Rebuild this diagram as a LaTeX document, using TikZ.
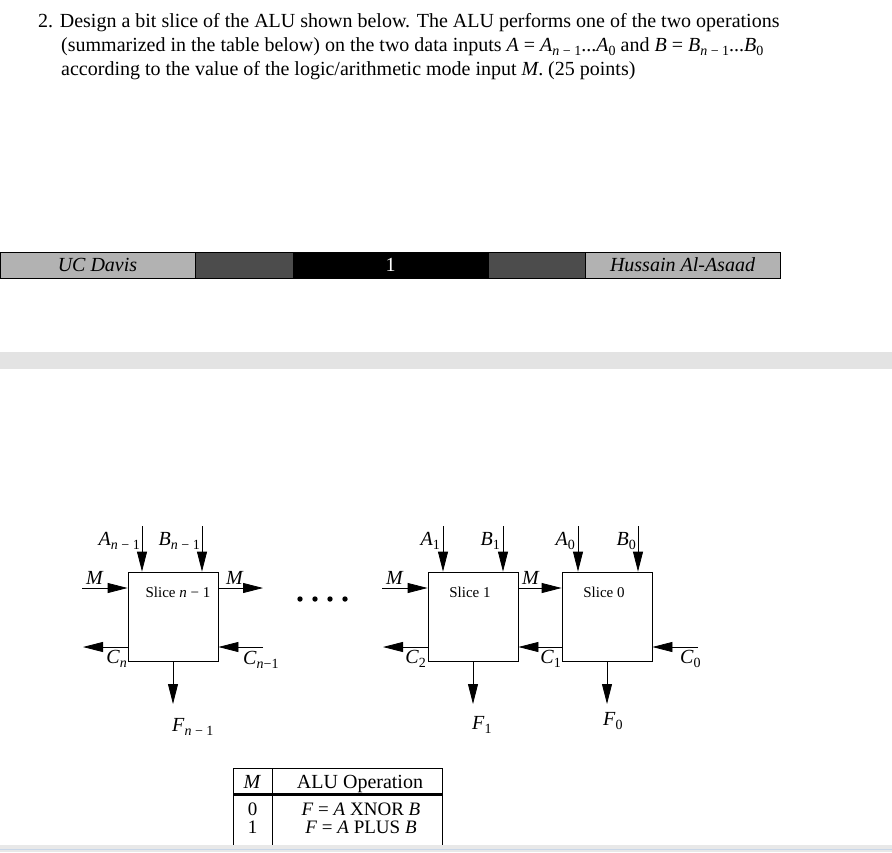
\documentclass[tikz,border=0pt]{standalone}
\usepackage{fontspec}
\setmainfont{Liberation Serif}
\usetikzlibrary{arrows.meta,positioning}
\definecolor{pageedge}{RGB}{200,214,232}
\newcommand{\vb}[1]{\textit{#1}}
\newcommand{\idx}[2]{\textit{#1}\raisebox{-4pt}{\fontsize{14}{14}\selectfont #2}}

\begin{document}
\begin{tikzpicture}[
  x=1pt, y=-1pt,
  prose/.style={anchor=base west, inner sep=0pt, font=\fontsize{20}{24}\selectfont},
  seg/.style={draw, line width=0.8pt, outer sep=0pt, minimum height=26pt,
    inner sep=0pt, font=\fontsize{20}{22}\selectfont\itshape},
  slicebox/.style={draw, line width=0.8pt, minimum width=90pt, minimum height=89pt, inner sep=0pt},
  slicetext/.style={inner sep=0pt, font=\fontsize{15}{18}\selectfont},
  lbl/.style={inner sep=0pt, font=\fontsize{20}{24}\selectfont},
  cell/.style={anchor=base, inner sep=0pt, font=\fontsize{19}{20}\selectfont},
  sig/.style={-{Triangle[length=20pt,width=10pt]}, line width=0.8pt}
]
\useasboundingbox (0,0) rectangle (892,852);

% question text
\node[prose] (q1) at (38,27) {2. Design a bit slice of the ALU shown below. The ALU performs one of the two operations};
\node[prose] (q2) at (61,51) {(summarized in the table below) on the two data inputs \vb{A} = \idx{A}{\vb{n} − 1}...\idx{A}{0} and \vb{B} = \idx{B}{\vb{n} − 1}...\idx{B}{0}};
\node[prose] (q3) at (61,75) {according to the value of the logic/arithmetic mode input \vb{M}. (25 points)};

% footer bar
\node[seg, fill=black!30, minimum width=195pt] (ucd) at (97.5,265) {UC Davis};
\node[seg, fill=black!70, minimum width=98pt, right=0pt of ucd] (dk1) {};
\node[seg, fill=black, minimum width=195pt, right=0pt of dk1, text=white, font=\fontsize{20}{22}\selectfont] (pg) {1};
\node[seg, fill=black!70, minimum width=97pt, right=0pt of pg] (dk2) {};
\node[seg, fill=black!30, minimum width=195pt, right=0pt of dk2] (auth) {Hussain Al-Asaad};

% page break band
\fill[black!11] (0,352) rectangle (892,369);

% slices
\node[slicebox] (sn) at (173,616.5) {};
\node[slicebox] (s1) at (473,616.5) {};
\node[slicebox] (s0) at (607,616.5) {};
\node[slicetext] (tn) at ([xshift=5pt,yshift=-21pt]sn.north) {Slice \vb{n} − 1};
\node[slicetext] (t1) at ([xshift=-3pt,yshift=-21pt]s1.north) {Slice 1};
\node[slicetext] (t0) at ([xshift=-3pt,yshift=-21pt]s0.north) {Slice 0};

\foreach \x in {300,315,330,345}
  \fill (\x,599) circle (2.7pt);

% data inputs
\coordinate (an) at (142,526);
\coordinate (bn) at (202,526);
\coordinate (a1) at (443,526);
\coordinate (b1) at (503,526);
\coordinate (a0) at (578,526);
\coordinate (b0) at (638,526);
\draw[sig] (an) -- (an |- sn.north);
\draw[sig] (bn) -- (bn |- sn.north);
\draw[sig] (a1) -- (a1 |- s1.north);
\draw[sig] (b1) -- (b1 |- s1.north);
\draw[sig] (a0) -- (a0 |- s0.north);
\draw[sig] (b0) -- (b0 |- s0.north);
\node[lbl, anchor=base east] (lan) at (140,545) {\idx{A}{\vb{n} − 1}};
\node[lbl, anchor=base east] (lbn) at (200,545) {\idx{B}{\vb{n} − 1}};
\node[lbl, anchor=base east] (la1) at (440,545) {\idx{A}{1}};
\node[lbl, anchor=base east] (lb1) at (500,545) {\idx{B}{1}};
\node[lbl, anchor=base east] (la0) at (575,545) {\idx{A}{0}};
\node[lbl, anchor=base east] (lb0) at (636,545) {\idx{B}{0}};

% mode line
\coordinate (mn) at (82,588);
\coordinate (mo) at (263,588);
\coordinate (m1) at (382,588);
\draw[sig] (mn) -- (mn -| sn.west);
\draw[sig] (sn.east |- mo) -- (mo);
\draw[sig] (m1) -- (m1 -| s1.west);
\draw[sig] (s1.east |- m1) -- (s0.west |- m1);
\node[lbl, anchor=base west] (lmn) at (86,584) {\vb{M}};
\node[lbl, anchor=base west] (lmo) at (226,584) {\vb{M}};
\node[lbl, anchor=base west] (lm1) at (386,584) {\vb{M}};
\node[lbl, anchor=base west] (lm0) at (522,584) {\vb{M}};

% carries
\coordinate (cn) at (83,647);
\coordinate (cn1) at (263,647);
\coordinate (c2) at (383,647);
\coordinate (c0) at (698,647);
\draw[sig] (sn.west |- cn) -- (cn);
\draw[sig] (cn1) -- (sn.east |- cn1);
\draw[sig] (s1.west |- c2) -- (c2);
\draw[sig] (s0.west |- c2) -- (s1.east |- c2);
\draw[sig] (c0) -- (s0.east |- c0);
\node[lbl, anchor=base east] (lcn) at (127,663) {\idx{C}{\vb{n}}};
\node[lbl, anchor=base west] (lcn1) at (243,664) {\idx{C}{\vb{n}−1}};
\node[lbl, anchor=base east] (lc2) at (426,663) {\idx{C}{2}};
\node[lbl, anchor=base east] (lc1) at (561,663) {\idx{C}{1}};
\node[lbl, anchor=base west] (lc0) at (680,663) {\idx{C}{0}};

% outputs
\coordinate (fn) at (173,704);
\coordinate (f1) at (473,704);
\coordinate (f0) at (607,704);
\draw[sig] (sn.south) -- (fn);
\draw[sig] (s1.south) -- (f1);
\draw[sig] (s0.south) -- (f0);
\node[lbl, anchor=base west] (lfn) at (172,731) {\idx{F}{\vb{n} − 1}};
\node[lbl, anchor=base west] (lf1) at (472,729) {\idx{F}{1}};
\node[lbl, anchor=base west] (lf0) at (603,725) {\idx{F}{0}};

% operation table
\draw[line width=0.8pt] (233,768) -- (442,768);
\draw[line width=0.8pt] (233,768) -- (233,846);
\draw[line width=0.8pt] (272,768) -- (272,846);
\draw[line width=0.8pt] (442,768) -- (442,846);
\draw[line width=3pt] (233,794) -- (443,794);
\node[cell, font=\fontsize{20}{22}\selectfont] (hm) at (252.5,788) {\vb{M}};
\node[cell, font=\fontsize{20}{22}\selectfont] (hop) at (360,788) {ALU Operation};
\node[cell] (r0m) at (252.5,815) {0};
\node[cell] (r0op) at (361,815) {\vb{F} = \vb{A} XNOR \vb{B}};
\node[cell] (r1m) at (252.5,833) {1};
\node[cell] (r1op) at (361,833) {\vb{F} = \vb{A} PLUS \vb{B}};

% next page edge
\fill[black!9] (0,845) rectangle (892,852);
\draw[pageedge, line width=1pt] (0,849) -- (892,849);
\end{tikzpicture}
\end{document}
